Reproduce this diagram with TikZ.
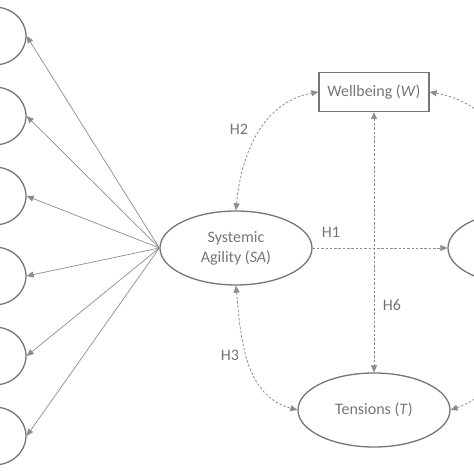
\documentclass[tikz,border=0pt]{standalone}
\usepackage{fontspec}
\setmainfont{Carlito}
\usetikzlibrary{arrows.meta}
\usetikzlibrary{shapes.geometric}
\definecolor{txtgray}{HTML}{757575}
\definecolor{linegray}{HTML}{8C8C8C}
\begin{document}
\begin{tikzpicture}[x=1pt,y=1pt,
    >={Triangle[length=7pt,width=6pt]},
    every node/.style={font=\fontsize{16}{20}\selectfont,text=txtgray},
    latent/.style={ellipse,draw=txtgray,line width=1.3pt,minimum width=152pt,minimum height=74pt,inner sep=0pt,align=center},
    dim/.style={ellipse,draw=txtgray,line width=1.3pt,minimum width=64pt,minimum height=58pt,inner sep=0pt},
    observed/.style={draw=txtgray,line width=1.2pt,minimum width=110pt,minimum height=39pt},
    load/.style={draw=linegray,line width=0.7pt,->},
    hyp/.style={draw=linegray,line width=0.8pt,dash pattern=on 2.5pt off 1.8pt}]
\useasboundingbox (0,0) rectangle (474,474);
\clip (0,0) rectangle (474,474);
\node[latent] (sa) at (236,226) {Systemic\\Agility (\textit{SA})};
\node[observed] (w) at (374,382) {Wellbeing (\textit{W})};
\node[latent] (t) at (374,64) {Tensions (\textit{T})};
\node[latent] (r) at (524,226) {};
\foreach \i in {1,...,6}
    \node[dim] (d\i) at (-6,518-80*\i) {};
\foreach \i in {1,...,6}
    \draw[load] (sa.west) -- (d\i.east);
\draw[hyp,->] (sa.east) -- (r.west);
\draw[hyp,<->] (w.south) -- (t.north);
\draw[hyp,<->] (sa.north) to[out=85,in=190] (w.west);
\draw[hyp,<->] (sa.south) to[out=-85,in=165] (t.west);
\draw[hyp,<->] (w.east) to[out=-10,in=90] (r.north);
\draw[hyp,<->] (t.east) to[out=20,in=-90] (r.south);
\node (h1) at (331,242) {H1};
\node (h2) at (239,345) {H2};
\node (h3) at (230,119) {H3};
\node (h6) at (392,169) {H6};
\end{tikzpicture}
\end{document}
